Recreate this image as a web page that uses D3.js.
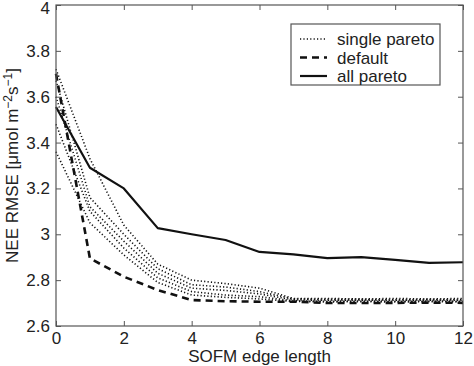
<!DOCTYPE html>
<html><head><meta charset="utf-8">
<script src="https://cdn.jsdelivr.net/npm/d3@7"></script>
<style>body{margin:0;background:#fff}svg{display:block}text{font-family:"Liberation Sans",Arial,sans-serif;fill:#222}</style>
</head><body><svg id="c" width="474" height="366"></svg>
<script>
const xs = [0,1,2,3,4,5,6,7,8,9,10,11,12];
const allPareto = [3.555,3.29,3.20,3.027,3.0,2.975,2.923,2.912,2.896,2.90,2.888,2.875,2.878];
const defaultRun = [3.70,2.895,2.815,2.757,2.713,2.708,2.706,2.706,2.700,2.700,2.701,2.702,2.701];
const singlePareto = [
  [3.72,3.33,3.04,2.87,2.80,2.785,2.765,2.72,2.72,2.718,2.72,2.718,2.72],
  [3.67,3.16,3.00,2.85,2.78,2.770,2.750,2.718,2.716,2.716,2.715,2.716,2.715],
  [3.60,3.12,2.97,2.83,2.765,2.755,2.740,2.714,2.712,2.712,2.712,2.712,2.712],
  [3.48,3.10,2.94,2.81,2.750,2.735,2.728,2.710,2.708,2.709,2.708,2.709,2.708],
  [3.36,3.05,2.91,2.79,2.735,2.725,2.718,2.707,2.705,2.706,2.705,2.706,2.705]
];
const xTicks = [0,2,4,6,8,10,12];
const yTicks = [2.6,2.8,3,3.2,3.4,3.6,3.8,4];
const legendLabels = ["single pareto","default","all pareto"];

const svg = d3.select("#c");
const L=56,R=463,T=5,B=326;
const x = d3.scaleLinear().domain([0,12]).range([L,R]);
const y = d3.scaleLinear().domain([2.6,4]).range([B,T]);
const axisCol = "#555";
const line = d3.line().x((d,i)=>x(xs[i])).y(d=>y(d));

const styles = {
  dot:{w:1.6,dash:"1.2,2.2"},
  dash:{w:2.6,dash:"7,5"},
  solid:{w:2.2,dash:null}
};
function draw(data,s){
  svg.append("path").datum(data).attr("d",line).attr("fill","none")
    .attr("stroke","#111").attr("stroke-width",s.w)
    .attr("stroke-dasharray",s.dash).attr("stroke-linejoin","round");
}
singlePareto.forEach(d=>draw(d,styles.dot));
draw(defaultRun,styles.dash);
draw(allPareto,styles.solid);

// axes (inward ticks, mirrored)
const tl=5;
const ax = svg.append("g");
ax.append("g").attr("transform",`translate(0,${B})`)
  .call(d3.axisBottom(x).tickValues(xTicks).tickSize(-tl).tickPadding(6).tickFormat(d3.format("d")));
ax.append("g").attr("transform",`translate(0,${T})`)
  .call(d3.axisTop(x).tickValues(xTicks).tickSize(-tl).tickFormat(""));
const yAx = ax.append("g").attr("transform",`translate(${L},0)`)
  .call(d3.axisLeft(y).tickValues(yTicks).tickSize(-tl).tickPadding(6).tickFormat(d=>d3.format("")(+d.toFixed(1))));
ax.append("g").attr("transform",`translate(${R},0)`)
  .call(d3.axisRight(y).tickValues(yTicks).tickSize(-tl).tickFormat(""));
ax.selectAll(".domain").remove();
ax.selectAll("line").attr("stroke",axisCol).attr("stroke-width",1);
ax.selectAll("text").style("font-size","17px").attr("fill","#222");
yAx.selectAll(".tick text").filter(d=>d===4).attr("dy","0.5em");
svg.append("rect").attr("x",L).attr("y",T).attr("width",R-L).attr("height",B-T)
  .attr("fill","none").attr("stroke",axisCol).attr("stroke-width",1.2);

// axis labels
svg.append("text").attr("x",(L+R)/2).attr("y",362).attr("text-anchor","middle")
  .style("font-size","17px").text("SOFM edge length");
const yl = svg.append("text").attr("transform",`translate(18,${(T+B)/2}) rotate(-90)`)
  .attr("text-anchor","middle").style("font-size","17px");
yl.append("tspan").text("NEE RMSE [μmol m");
yl.append("tspan").attr("dy",-6).style("font-size","12px").text("−2");
yl.append("tspan").attr("dy",6).text("s");
yl.append("tspan").attr("dy",-6).style("font-size","12px").text("−1");
yl.append("tspan").attr("dy",6).text("]");

// legend
const lg = svg.append("g");
lg.append("rect").attr("x",291).attr("y",24).attr("width",149).attr("height",61)
  .attr("fill","#fff").attr("stroke",axisCol).attr("stroke-width",1.2);
const ls=[styles.dot,styles.dash,styles.solid];
legendLabels.forEach((t,i)=>{
  const yy=39+i*18.5;
  lg.append("line").attr("x1",300).attr("x2",327).attr("y1",yy).attr("y2",yy)
    .attr("stroke","#111").attr("stroke-width",ls[i].w).attr("stroke-dasharray",ls[i].dash);
  lg.append("text").attr("x",337).attr("y",yy+6).style("font-size","17px").text(t);
});
</script></body></html>
